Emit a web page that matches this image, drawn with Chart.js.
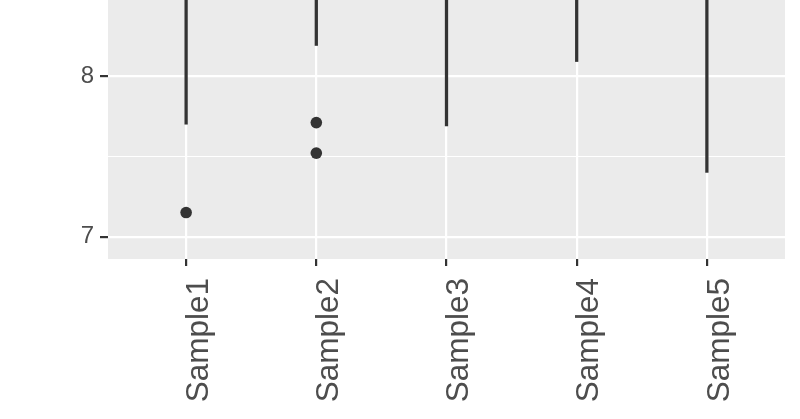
<!DOCTYPE html>
<html>
<head>
<meta charset="utf-8">
<script src="https://cdn.jsdelivr.net/npm/chart.js@4/dist/chart.umd.min.js"></script>
<style>
  html, body { margin: 0; padding: 0; background: #fff; }
  #wrap { width: 800px; height: 419px; }
</style>
</head>
<body>
<div id="wrap"><canvas id="chart" width="800" height="419"></canvas></div>
<script>
// ── Data (lower part of a box plot; boxes are above the visible range) ──
const samples      = ['Sample1', 'Sample2', 'Sample3', 'Sample4', 'Sample5'];
const whiskerLow   = [7.70, 8.19, 7.69, 8.09, 7.40];
const whiskerTop   = [8.60, 8.60, 8.60, 8.60, 8.60];   // runs out of view
const outlierGroup = [1, 2, 2];
const outlierValue = [7.15, 7.71, 7.52];
const yTicks       = [7, 7.5, 8];

const yMin = 6.861, yMax = 8.473;
const xMin = 0.4,   xMax = samples.length + 0.6;

const ink   = '#333333';
const txt   = '#4D4D4D';
const panel = '#EBEBEB';

// panel background
const panelBg = {
    id: 'panelBg',
    beforeDraw(chart) {
        const { ctx, chartArea: a } = chart;
        ctx.save();
        ctx.fillStyle = panel;
        ctx.fillRect(a.left, a.top, a.right - a.left, a.bottom - a.top);
        ctx.restore();
    }
};

new Chart(document.getElementById('chart'), {
    type: 'bar',
    data: {
        datasets: [
            {
                type: 'bar',
                data: samples.map((s, i) => ({ x: i + 1, y: [whiskerLow[i], whiskerTop[i]] })),
                backgroundColor: ink,
                barThickness: 2.6,
                borderWidth: 0
            },
            {
                type: 'scatter',
                data: outlierGroup.map((g, i) => ({ x: g, y: outlierValue[i] })),
                backgroundColor: ink,
                borderWidth: 0,
                pointRadius: 5.8
            }
        ]
    },
    options: {
        responsive: false,
        animation: false,
        devicePixelRatio: 1,
        layout: { autoPadding: false, padding: { left: 0, right: 15, top: 0, bottom: 0 } },
        plugins: { legend: { display: false }, tooltip: { enabled: false } },
        scales: {
            x: {
                type: 'linear',
                min: xMin, max: xMax,
                offset: false,
                afterBuildTicks: s => { s.ticks = samples.map((_, i) => ({ value: i + 1 })); },
                afterFit: s => { s.height = 160; s.paddingLeft = 0; s.paddingRight = 0; },
                border: { display: false },
                grid: {
                    offset: false,
                    color: '#FFFFFF',
                    lineWidth: 2.2,
                    drawTicks: true,
                    tickLength: 7,
                    tickColor: ink,
                    tickWidth: 2.2
                },
                ticks: {
                    autoSkip: false,
                    minRotation: 90, maxRotation: 90,
                    padding: 12,
                    labelOffset: 13,
                    color: txt,
                    font: { family: '"Liberation Sans", Arial, sans-serif', size: 31.5 },
                    callback: v => samples[v - 1] ?? ''
                }
            },
            y: {
                min: yMin, max: yMax,
                afterBuildTicks: s => { s.ticks = yTicks.map(v => ({ value: v })); },
                afterFit: s => { s.width = 108; s.paddingTop = 0; s.paddingBottom = 0; },
                border: { display: false },
                grid: {
                    color: '#FFFFFF',
                    lineWidth: c => (c.tick && c.tick.value % 1 === 0) ? 2.2 : 1.1,
                    drawTicks: true,
                    tickLength: 8,
                    tickColor: c => (c.tick && c.tick.value % 1 === 0) ? ink : 'rgba(0,0,0,0)',
                    tickWidth: 2.2
                },
                ticks: {
                    padding: 6,
                    color: txt,
                    font: { family: '"Liberation Sans", Arial, sans-serif', size: 24 },
                    callback: v => (v % 1 === 0 ? String(v) : '')
                }
            }
        }
    },
    plugins: [panelBg]
});
</script>
</body>
</html>
